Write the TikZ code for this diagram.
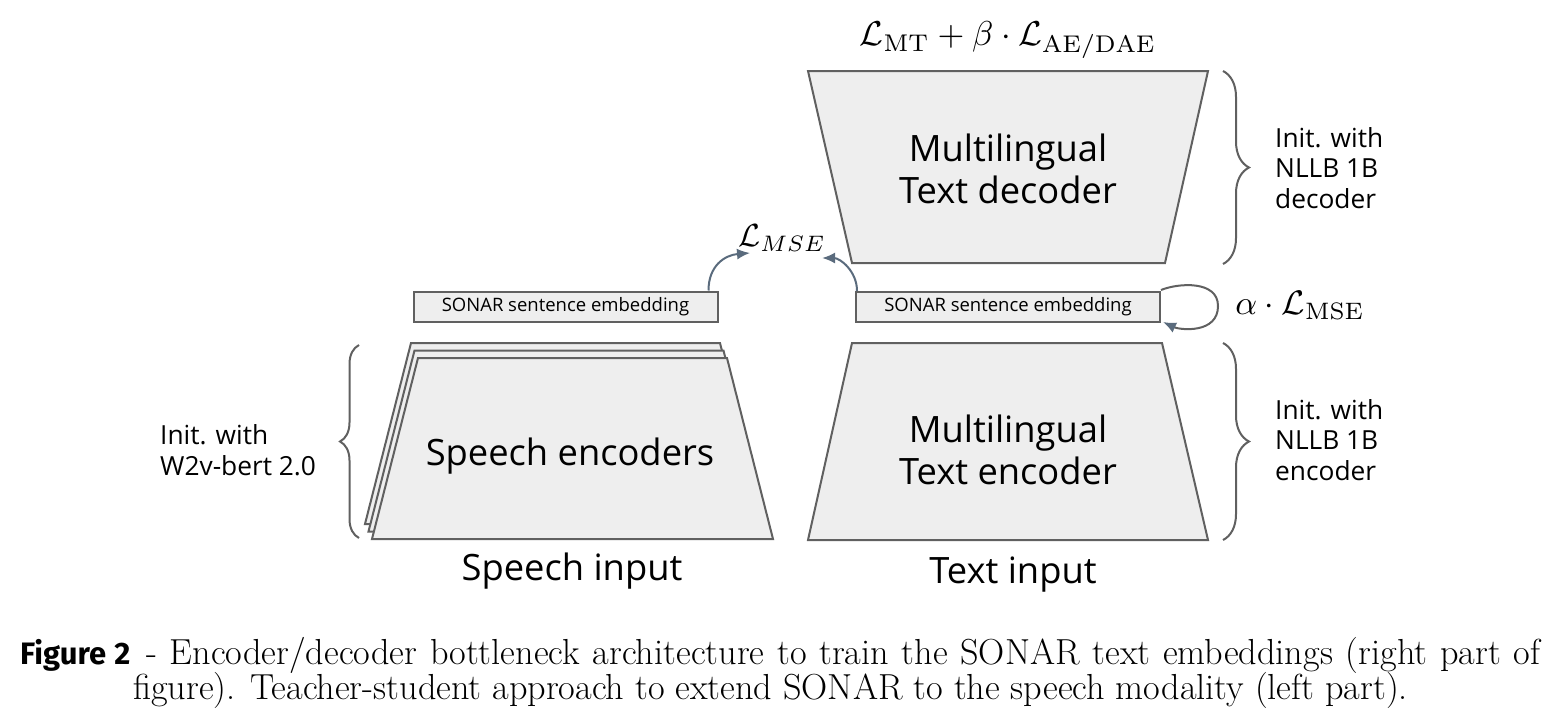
\documentclass[tikz,border=0pt]{standalone}
\usepackage{fontspec}
\usepackage{amsmath}
\usepackage{graphicx}
\newfontfamily\dfont{Open Sans}
\newfontfamily\capfont{Fira Sans}
\usetikzlibrary{arrows.meta,decorations.pathreplacing,calc}
\definecolor{boxfill}{HTML}{EEEEEE}
\definecolor{boxline}{HTML}{606060}
\definecolor{slate}{HTML}{5A6B7D}
\begin{document}
\begin{tikzpicture}[x=1pt,y=-1pt,
  blockshape/.style={draw=boxline,fill=boxfill,line width=2pt,line join=miter},
  sonarbox/.style={draw=boxline,fill=boxfill,line width=2pt,minimum width=304pt,minimum height=30pt,inner sep=0pt,font=\dfont\fontsize{18.5}{22}\selectfont},
  bigtext/.style={align=center,font=\dfont\fontsize{36.3}{42}\selectfont,inner sep=0pt},
  sidelabel/.style={align=left,anchor=west,font=\dfont\fontsize{26.3}{30.5}\selectfont,inner sep=0pt},
  mathlabel/.style={inner sep=0pt},
  bracestyle/.style={draw=boxline,line width=2pt,decorate,decoration={brace,amplitude=26pt}},
  mselink/.style={draw=slate,line width=2pt,-{Latex[length=13pt,width=11pt]}},
  caplines/.style={anchor=base west,inner sep=0pt,font=\fontsize{36.2}{42}\selectfont}]
\useasboundingbox (0,0) rectangle (1546,718);

% decoder
\draw[blockshape] (808,71) -- (1208,71) -- (1165,263) -- (852,263) -- cycle;
\node[bigtext] (dec) at (1008,169) {Multilingual\\Text decoder};
\node[mathlabel] (lossdec) at (1008,40) {\scalebox{3.45}{$\mathcal{L}_{\mathrm{MT}}+\beta\cdot\mathcal{L}_{\mathrm{AE/DAE}}$}};

% right encoder
\draw[blockshape] (852,343) -- (1162,343) -- (1208,540) -- (808,540) -- cycle;
\node[bigtext] (enc) at (1008,450) {Multilingual\\Text encoder};
\node[bigtext] (tin) at (1013,575) {Text input};

% left speech encoder stack
\draw[blockshape] (411,343) -- (720,343) -- (766,524) -- (365,524) -- cycle;
\draw[blockshape] (414.5,350.5) -- (723.5,350.5) -- (769.5,531.5) -- (368.5,531.5) -- cycle;
\draw[blockshape] (418,358) -- (727,358) -- (773,539) -- (372,539) -- cycle;
\node[bigtext] (spenc) at (570,456) {Speech encoders};
\node[bigtext] (sin) at (572,571) {Speech input};

% sonar boxes
\node[sonarbox] (sl) at (565.5,306.5) {SONAR sentence embedding};
\node[sonarbox] (sr) at (1008,307) {SONAR sentence embedding};

% losses
\node[mathlabel] (mse) at (782,238) {\scalebox{3.2}{$\mathcal{L}_{MSE}$}};
\node[mathlabel] (amse) at (1300,306) {\scalebox{3.4}{$\alpha\cdot\mathcal{L}_{\mathrm{MSE}}$}};

\coordinate (lstart) at ($(sl.north east)+(-10,0)$);
\coordinate (lend) at ($(mse.center)+(-32,15)$);
\coordinate (rstart) at ($(sr.north west)+(2,0)$);
\coordinate (rend) at ($(mse.center)+(40,20)$);
\draw[mselink] (lstart) .. controls ($(lstart)+(0,-25)$) and ($(lend)+(-25,2)$) .. (lend);
\draw[mselink] (rstart) .. controls ($(rstart)+(0,-20)$) and ($(rend)+(18,0)$) .. (rend);

% self loop
\coordinate (loopR) at (1218,306);
\draw[draw=boxline,line width=2pt,-{Latex[length=13pt,width=11pt,color=slate]}]
  ($(sr.north east)+(0,-1)$) .. controls (1178,283) and (1218,280) .. (loopR)
  .. controls (1218,334) and (1180,330) .. ($(sr.south east)+(2,-1)$);

% braces
\draw[bracestyle,decoration={amplitude=19pt}] (359,538) -- (359,345);
\draw[bracestyle] (1223,71) -- (1223,264);
\draw[bracestyle] (1223,343) -- (1223,540);

% side labels
\node[sidelabel] (ldec) at (1275,168) {Init. with\\NLLB 1B\\decoder};
\node[sidelabel] (lenc) at (1275,440) {Init. with\\NLLB 1B\\encoder};
\node[sidelabel] (lsp) at (160,450) {Init. with\\W2v-bert 2.0};

% caption
\node[caplines] (cap1) at (20,664) {\hbox to 1520pt{{\capfont\bfseries\fontsize{31}{35}\selectfont Figure\kern 8pt2}\kern 16pt- Encoder/decoder bottleneck architecture to train the SONAR text embeddings (right part of}};
\node[caplines] (cap2) at (133,699) {figure). Teacher-student approach to extend SONAR to the speech modality (left part).};
\end{tikzpicture}
\end{document}
